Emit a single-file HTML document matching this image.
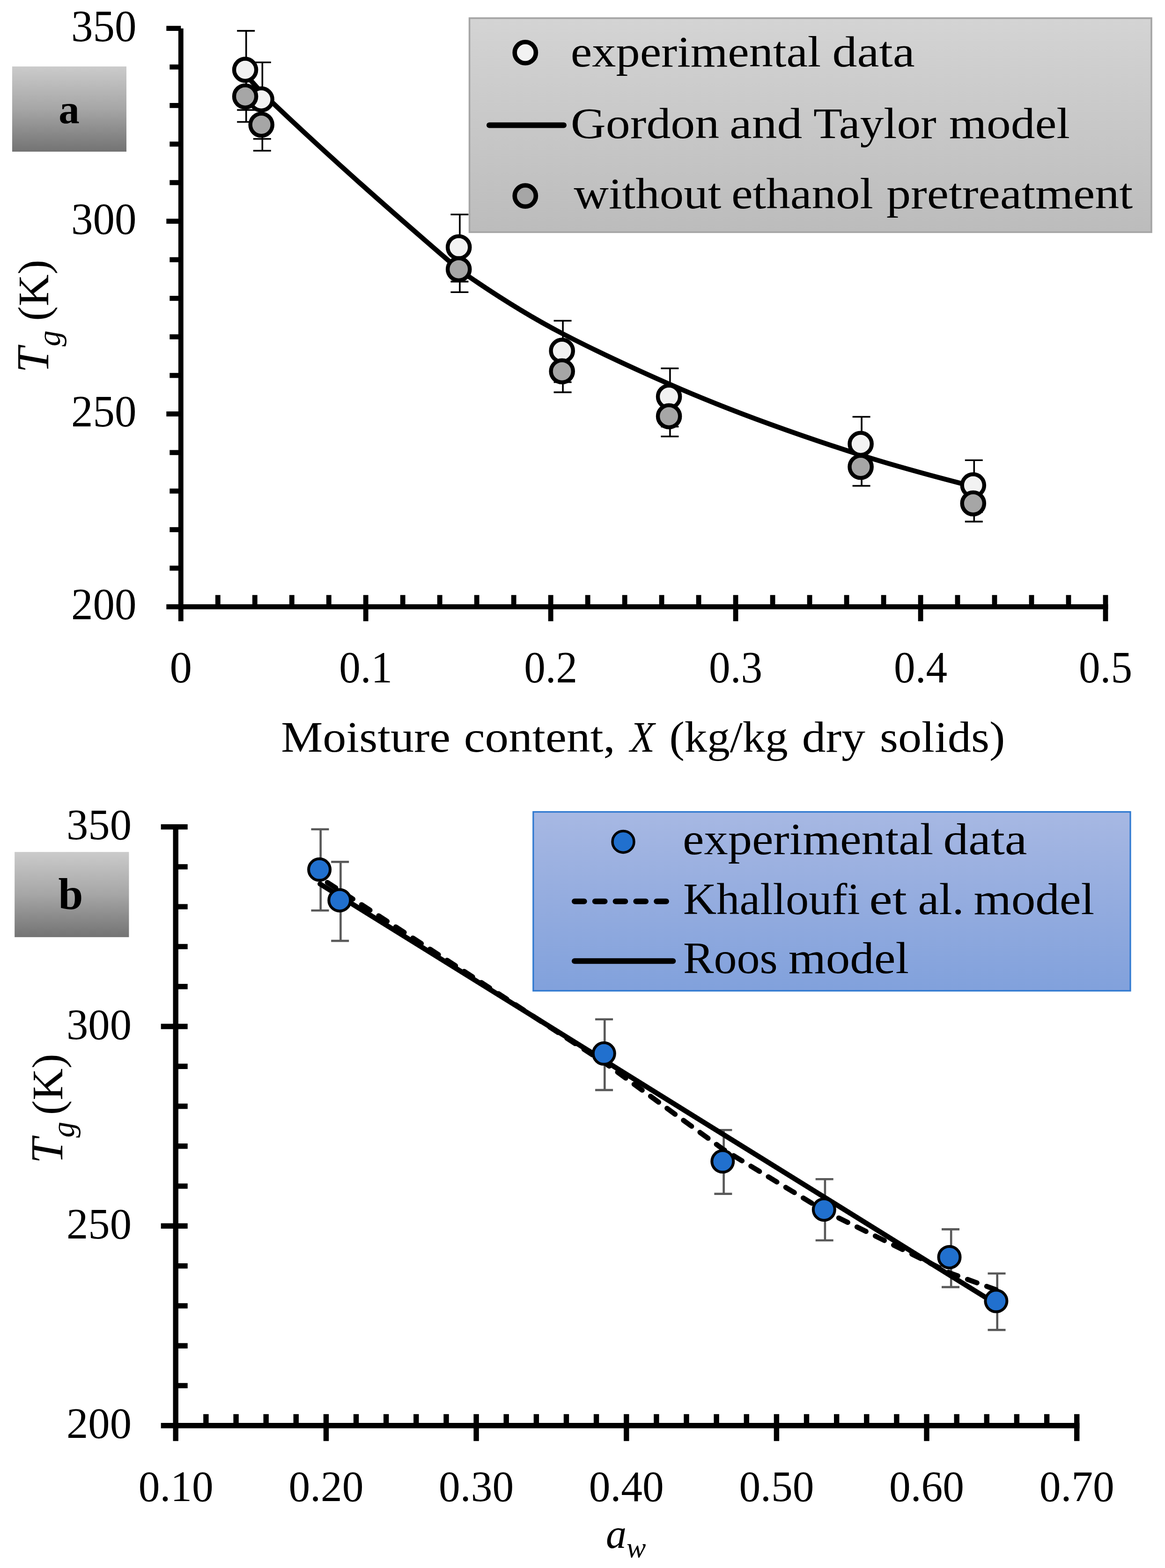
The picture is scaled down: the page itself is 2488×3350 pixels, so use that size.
<!DOCTYPE html>
<html lang="en">
<head>
<meta charset="utf-8">
<title>Glass transition temperature charts</title>
<style>
html,body{margin:0;padding:0;background:#fff;}
body{width:2488px;height:3350px;overflow:hidden;}
svg{display:block;font-family:"Liberation Serif", "DejaVu Serif", serif;fill:#000;}
</style>
</head>
<body>
<svg width="2488" height="3350" viewBox="0 0 2488 3350">
<defs>
<linearGradient id="gbox" x1="0" y1="0" x2="0" y2="1"><stop offset="0" stop-color="#cbcbcb"/><stop offset="0.5" stop-color="#a6a6a6"/><stop offset="1" stop-color="#737373"/></linearGradient>
<linearGradient id="gleg" x1="0" y1="0" x2="0" y2="1"><stop offset="0" stop-color="#d4d4d4"/><stop offset="0.5" stop-color="#c8c8c8"/><stop offset="1" stop-color="#bcbcbc"/></linearGradient>
<linearGradient id="bleg" x1="0" y1="0" x2="0" y2="1"><stop offset="0" stop-color="#a7b8e3"/><stop offset="0.5" stop-color="#94acdf"/><stop offset="1" stop-color="#81a1dc"/></linearGradient>
</defs>
<rect x="26" y="142" width="244" height="182" fill="url(#gbox)"/>
<text x="147.5" y="263" font-size="89" text-anchor="middle" font-weight="bold">a</text>
<g stroke="#000" stroke-width="10.8" fill="none">
<path d="M386.3 60.7V1327.3"/>
<path d="M355.3 1296.3H2366.4"/>
<path d="M355.3 60.7H386.3M362.3 143.1H386.3M362.3 225.4H386.3M362.3 307.8H386.3M362.3 390.2H386.3M355.3 472.6H386.3M362.3 554.9H386.3M362.3 637.3H386.3M362.3 719.7H386.3M362.3 802.1H386.3M355.3 884.4H386.3M362.3 966.8H386.3M362.3 1049.2H386.3M362.3 1131.6H386.3M362.3 1213.9H386.3M465.3 1271.3V1296.3M544.3 1271.3V1296.3M623.3 1271.3V1296.3M702.3 1271.3V1296.3M781.2 1271.3V1327.3M860.2 1271.3V1296.3M939.2 1271.3V1296.3M1018.2 1271.3V1296.3M1097.2 1271.3V1296.3M1176.2 1271.3V1327.3M1255.2 1271.3V1296.3M1334.2 1271.3V1296.3M1413.1 1271.3V1296.3M1492.1 1271.3V1296.3M1571.1 1271.3V1327.3M1650.1 1271.3V1296.3M1729.1 1271.3V1296.3M1808.1 1271.3V1296.3M1887.1 1271.3V1296.3M1966.1 1271.3V1327.3M2045 1271.3V1296.3M2124 1271.3V1296.3M2203 1271.3V1296.3M2282 1271.3V1296.3M2361 1271.3V1327.3"/>
</g>
<text x="291.5" y="87.7" font-size="96" text-anchor="end" textLength="139.5" lengthAdjust="spacingAndGlyphs">350</text>
<text x="291.5" y="499.6" font-size="96" text-anchor="end" textLength="139.5" lengthAdjust="spacingAndGlyphs">300</text>
<text x="291.5" y="911.4" font-size="96" text-anchor="end" textLength="139.5" lengthAdjust="spacingAndGlyphs">250</text>
<text x="291.5" y="1323.3" font-size="96" text-anchor="end" textLength="139.5" lengthAdjust="spacingAndGlyphs">200</text>
<text x="386.3" y="1457.5" font-size="96" text-anchor="middle" textLength="47.5" lengthAdjust="spacingAndGlyphs">0</text>
<text x="781.2" y="1457.5" font-size="96" text-anchor="middle" textLength="114" lengthAdjust="spacingAndGlyphs">0.1</text>
<text x="1176.2" y="1457.5" font-size="96" text-anchor="middle" textLength="114" lengthAdjust="spacingAndGlyphs">0.2</text>
<text x="1571.1" y="1457.5" font-size="96" text-anchor="middle" textLength="114" lengthAdjust="spacingAndGlyphs">0.3</text>
<text x="1966.1" y="1457.5" font-size="96" text-anchor="middle" textLength="114" lengthAdjust="spacingAndGlyphs">0.4</text>
<text x="2361" y="1457.5" font-size="96" text-anchor="middle" textLength="114" lengthAdjust="spacingAndGlyphs">0.5</text>
<text x="600.2" y="1605.5" font-size="93" textLength="361.7" lengthAdjust="spacingAndGlyphs">Moisture</text>
<text x="990.7" y="1605.5" font-size="93" textLength="323.1" lengthAdjust="spacingAndGlyphs">content,</text>
<text x="1345.5" y="1605.5" font-size="93" textLength="52.7" lengthAdjust="spacingAndGlyphs" font-style="italic">X</text>
<text x="1429.5" y="1605.5" font-size="93" textLength="253.3" lengthAdjust="spacingAndGlyphs">(kg/kg</text>
<text x="1712.8" y="1605.5" font-size="93" textLength="135" lengthAdjust="spacingAndGlyphs">dry</text>
<text x="1878.9" y="1605.5" font-size="93" textLength="267.5" lengthAdjust="spacingAndGlyphs">solids)</text>
<text transform="translate(103,796.5) rotate(-90)" font-size="94"><tspan font-style="italic" font-size="98">T</tspan><tspan font-style="italic" font-size="68" dx="2" dy="25">g</tspan><tspan dx="-3" dy="-25"> (K)</tspan></text>
<path d="M525.7 65.9V235M506.2 65.9h38M506.2 235h38M560.3 133.2V296.8M540.8 133.2h38M540.8 296.8h38M981.9 458.3V601.6M962.4 458.3h38M962.4 601.6h38M1202.1 685.3V816.5M1182.6 685.3h38M1182.6 816.5h38M1430.9 787V911.5M1411.4 787h38M1411.4 911.5h38M1840.1 890.5V1009.8M1820.6 890.5h38M1820.6 1009.8h38M2080.3 983.3V1094.3M2060.8 983.3h38M2060.8 1094.3h38M525.7 152.3V260.5M506.2 152.3h38M506.2 260.5h38M560.3 214.8V322M540.8 214.8h38M540.8 322h38M981.9 529.9V624.3M962.4 529.9h38M962.4 624.3h38M1202.1 752V838.1M1182.6 752h38M1182.6 838.1h38M1430.9 850.2V932.5M1411.4 850.2h38M1411.4 932.5h38M1840.1 960.5V1038M1820.6 960.5h38M1820.6 1038h38M2080.3 1040V1114.4M2060.8 1040h38M2060.8 1114.4h38" stroke="#000" stroke-width="3.6" fill="none"/>
<path d="M525.2 160C536.7 172.7 548.2 187 559.7 198C700.2 332.9 840.8 456.1 981.3 577C1054.8 628.4 1128.2 674.8 1201.7 713C1277.9 752.6 1354 787.5 1430.2 821C1566.7 881 1703.1 928.9 1839.6 972.6C1919.7 998.2 1999.9 1019.2 2080 1040" stroke="#000" stroke-width="10.4" fill="none" stroke-linejoin="round" stroke-linecap="round"/>
<circle cx="523.6" cy="149.1" r="23.6" fill="#f2f2f2" stroke="#000" stroke-width="8.4"/>
<circle cx="558.1" cy="212.4" r="23.6" fill="#f2f2f2" stroke="#000" stroke-width="8.4"/>
<circle cx="979.7" cy="528.2" r="23.6" fill="#f2f2f2" stroke="#000" stroke-width="8.4"/>
<circle cx="1200.2" cy="749.4" r="23.6" fill="#f2f2f2" stroke="#000" stroke-width="8.4"/>
<circle cx="1428.6" cy="847.5" r="23.6" fill="#f2f2f2" stroke="#000" stroke-width="8.4"/>
<circle cx="1838.1" cy="948.4" r="23.6" fill="#f2f2f2" stroke="#000" stroke-width="8.4"/>
<circle cx="2078.3" cy="1036.8" r="23.6" fill="#f2f2f2" stroke="#000" stroke-width="8.4"/>
<circle cx="523.6" cy="206" r="23.6" fill="#a6a6a6" stroke="#000" stroke-width="8.4"/>
<circle cx="558.2" cy="266.5" r="23.6" fill="#a6a6a6" stroke="#000" stroke-width="8.4"/>
<circle cx="979.7" cy="575.3" r="23.6" fill="#a6a6a6" stroke="#000" stroke-width="8.4"/>
<circle cx="1200.2" cy="793.3" r="23.6" fill="#a6a6a6" stroke="#000" stroke-width="8.4"/>
<circle cx="1428.6" cy="889.4" r="23.6" fill="#a6a6a6" stroke="#000" stroke-width="8.4"/>
<circle cx="1838.1" cy="997.5" r="23.6" fill="#a6a6a6" stroke="#000" stroke-width="8.4"/>
<circle cx="2078.3" cy="1075.5" r="23.6" fill="#a6a6a6" stroke="#000" stroke-width="8.4"/>
<rect x="1002.6" y="38.8" width="1456.4" height="457.2" fill="url(#gleg)" stroke="#a5a5a5" stroke-width="3.6"/>
<circle cx="1121.8" cy="112.4" r="22.6" fill="#f2f2f2" stroke="#000" stroke-width="9.6"/>
<path d="M1045 267.6H1204" stroke="#000" stroke-width="12" stroke-linecap="round"/>
<circle cx="1121.8" cy="418.6" r="22.6" fill="#a6a6a6" stroke="#000" stroke-width="9.6"/>
<text x="1218.8" y="142.3" font-size="94" textLength="534.5" lengthAdjust="spacingAndGlyphs">experimental</text>
<text x="1777.5" y="142.3" font-size="94" textLength="176.2" lengthAdjust="spacingAndGlyphs">data</text>
<text x="1218.8" y="294.7" font-size="94" textLength="317.5" lengthAdjust="spacingAndGlyphs">Gordon</text>
<text x="1558" y="294.7" font-size="94" textLength="155.2" lengthAdjust="spacingAndGlyphs">and</text>
<text x="1737" y="294.7" font-size="94" textLength="262.8" lengthAdjust="spacingAndGlyphs">Taylor</text>
<text x="2026.7" y="294.7" font-size="94" textLength="258.3" lengthAdjust="spacingAndGlyphs">model</text>
<text x="1225.6" y="445.4" font-size="94" textLength="314.8" lengthAdjust="spacingAndGlyphs">without</text>
<text x="1561.9" y="445.4" font-size="94" textLength="303.1" lengthAdjust="spacingAndGlyphs">ethanol</text>
<text x="1892.9" y="445.4" font-size="94" textLength="526.4" lengthAdjust="spacingAndGlyphs">pretreatment</text>
<rect x="31.2" y="1820.2" width="244.2" height="182" fill="url(#gbox)"/>
<text x="151" y="1941.5" font-size="95" text-anchor="middle" font-weight="bold">b</text>
<g stroke="#000" stroke-width="11.4" fill="none">
<path d="M375.2 1766.6V3078.7"/>
<path d="M343.7 3045.7H2305.4"/>
<path d="M343.7 1766.6H400.7M375.2 1851.9H400.7M375.2 1937.1H400.7M375.2 2022.4H400.7M375.2 2107.7H400.7M343.7 2193H400.7M375.2 2278.2H400.7M375.2 2363.5H400.7M375.2 2448.8H400.7M375.2 2534.1H400.7M343.7 2619.3H400.7M375.2 2704.6H400.7M375.2 2789.9H400.7M375.2 2875.2H400.7M375.2 2960.4H400.7M439.9 3021.3V3045.7M504.1 3021.3V3045.7M568.2 3021.3V3045.7M632.3 3021.3V3045.7M696.5 3021.3V3078.7M760.6 3021.3V3045.7M824.7 3021.3V3045.7M888.8 3021.3V3045.7M953 3021.3V3045.7M1017.1 3021.3V3078.7M1081.2 3021.3V3045.7M1145.4 3021.3V3045.7M1209.5 3021.3V3045.7M1273.6 3021.3V3045.7M1337.8 3021.3V3078.7M1401.9 3021.3V3045.7M1466 3021.3V3045.7M1530.1 3021.3V3045.7M1594.3 3021.3V3045.7M1658.4 3021.3V3078.7M1722.5 3021.3V3045.7M1786.7 3021.3V3045.7M1850.8 3021.3V3045.7M1914.9 3021.3V3045.7M1979 3021.3V3078.7M2043.2 3021.3V3045.7M2107.3 3021.3V3045.7M2171.4 3021.3V3045.7M2235.6 3021.3V3045.7M2299.7 3021.3V3078.7"/>
</g>
<text x="281" y="1793.1" font-size="94" text-anchor="end" textLength="139" lengthAdjust="spacingAndGlyphs">350</text>
<text x="281" y="2219.5" font-size="94" text-anchor="end" textLength="139" lengthAdjust="spacingAndGlyphs">300</text>
<text x="281" y="2645.8" font-size="94" text-anchor="end" textLength="139" lengthAdjust="spacingAndGlyphs">250</text>
<text x="281" y="3072.2" font-size="94" text-anchor="end" textLength="139" lengthAdjust="spacingAndGlyphs">200</text>
<text x="375.8" y="3206.8" font-size="94" text-anchor="middle" textLength="160" lengthAdjust="spacingAndGlyphs">0.10</text>
<text x="696.5" y="3206.8" font-size="94" text-anchor="middle" textLength="160" lengthAdjust="spacingAndGlyphs">0.20</text>
<text x="1017.1" y="3206.8" font-size="94" text-anchor="middle" textLength="160" lengthAdjust="spacingAndGlyphs">0.30</text>
<text x="1337.8" y="3206.8" font-size="94" text-anchor="middle" textLength="160" lengthAdjust="spacingAndGlyphs">0.40</text>
<text x="1658.4" y="3206.8" font-size="94" text-anchor="middle" textLength="160" lengthAdjust="spacingAndGlyphs">0.50</text>
<text x="1979" y="3206.8" font-size="94" text-anchor="middle" textLength="160" lengthAdjust="spacingAndGlyphs">0.60</text>
<text x="2299.7" y="3206.8" font-size="94" text-anchor="middle" textLength="160" lengthAdjust="spacingAndGlyphs">0.70</text>
<text x="1294" y="3307.2" font-size="88" font-style="italic">a<tspan font-size="62" dy="20">w</tspan></text>
<text transform="translate(132.5,2486) rotate(-90)" font-size="94"><tspan font-style="italic" font-size="98">T</tspan><tspan font-style="italic" font-size="68" dx="1" dy="25">g</tspan><tspan dx="-9" dy="-25"> (K)</tspan></text>
<path d="M684.7 1771.8V1945.3M664.5 1771.8h38M664.5 1945.3h38M727.4 1841.4V2010.1M707.2 1841.4h38M707.2 2010.1h38M1291.3 2177.8V2328.9M1271.1 2177.8h38M1271.1 2328.9h38M1545.6 2414.2V2550.6M1525.4 2414.2h38M1525.4 2550.6h38M1761.9 2519.2V2650M1741.7 2519.2h38M1741.7 2650h38M2031.2 2626.4V2749.9M2011 2626.4h38M2011 2749.9h38M2129.7 2720.8V2841.4M2109.5 2720.8h38M2109.5 2841.4h38" stroke="#595959" stroke-width="4.6" fill="none"/>
<path d="M683.5 1888.5L2128.5 2786.5" stroke="#000" stroke-width="10.8" fill="none" stroke-linecap="round"/>
<path d="M683.5 1875.3L727 1903.4L1290.5 2270L1544.4 2455.5L1760.7 2587L2029.5 2720L2128.5 2756" stroke="#000" stroke-width="10.8" fill="none" stroke-dasharray="21.5 22.07" stroke-dashoffset="-18.55" stroke-linejoin="round" stroke-linecap="round"/>
<circle cx="682.1" cy="1857.8" r="23" fill="#2170ce" stroke="#000" stroke-width="6"/>
<circle cx="725.3" cy="1923.4" r="23" fill="#2170ce" stroke="#000" stroke-width="6"/>
<circle cx="1289.8" cy="2250.8" r="23" fill="#2170ce" stroke="#000" stroke-width="6"/>
<circle cx="1543.3" cy="2481.3" r="23" fill="#2170ce" stroke="#000" stroke-width="6"/>
<circle cx="1759.8" cy="2584.2" r="23" fill="#2170ce" stroke="#000" stroke-width="6"/>
<circle cx="2027.5" cy="2685.9" r="23" fill="#2170ce" stroke="#000" stroke-width="6"/>
<circle cx="2127.4" cy="2779.6" r="23" fill="#2170ce" stroke="#000" stroke-width="6"/>
<rect x="1138.8" y="1734.6" width="1275.2" height="382.2" fill="url(#bleg)" stroke="#2f79d0" stroke-width="3.2"/>
<circle cx="1331" cy="1798.4" r="23" fill="#2170ce" stroke="#000" stroke-width="5.5"/>
<path d="M1227 1925.7H1427" stroke="#000" stroke-width="12" stroke-dasharray="20.7 23.1" stroke-linecap="round"/>
<path d="M1227 2053.2H1437.3" stroke="#000" stroke-width="12" stroke-linecap="round"/>
<text x="1458" y="1824.7" font-size="95" textLength="535.3" lengthAdjust="spacingAndGlyphs">experimental</text>
<text x="2014.6" y="1824.7" font-size="95" textLength="178.8" lengthAdjust="spacingAndGlyphs">data</text>
<text x="1459" y="1952.6" font-size="95" textLength="377.7" lengthAdjust="spacingAndGlyphs">Khalloufi</text>
<text x="1856.3" y="1952.6" font-size="95" textLength="80.5" lengthAdjust="spacingAndGlyphs">et</text>
<text x="1960.4" y="1952.6" font-size="95" textLength="98.5" lengthAdjust="spacingAndGlyphs">al.</text>
<text x="2079.4" y="1952.6" font-size="95" textLength="257.9" lengthAdjust="spacingAndGlyphs">model</text>
<text x="1459" y="2079" font-size="95" textLength="201.8" lengthAdjust="spacingAndGlyphs">Roos</text>
<text x="1683.8" y="2079" font-size="95" textLength="257.3" lengthAdjust="spacingAndGlyphs">model</text>
</svg>
</body>
</html>
